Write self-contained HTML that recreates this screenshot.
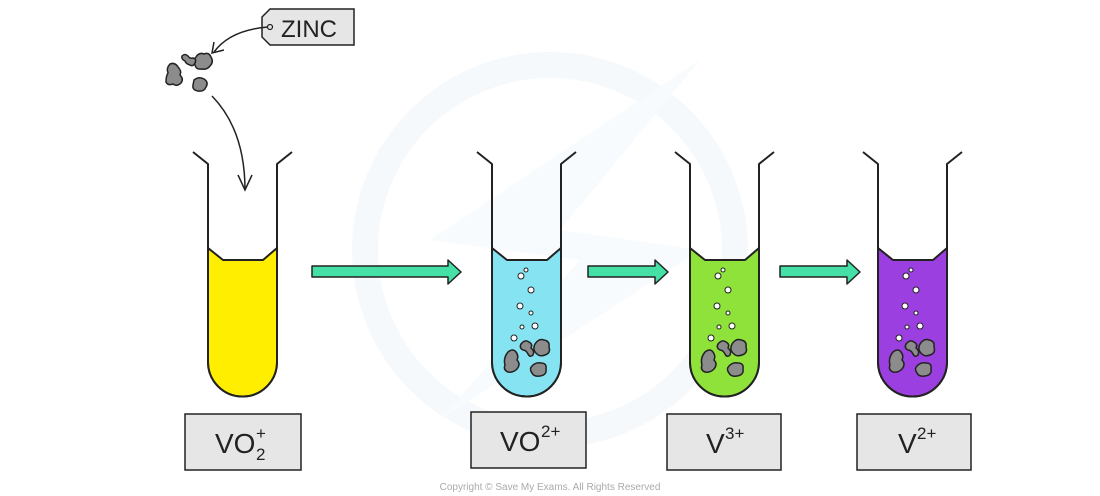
<!DOCTYPE html>
<html><head><meta charset="utf-8"><style>
body{margin:0;background:#fff;}
svg{display:block;font-family:"Liberation Sans",sans-serif;}
</style></head><body>
<svg width="1100" height="496" viewBox="0 0 1100 496" xmlns="http://www.w3.org/2000/svg">
<!-- faint watermark -->
<circle cx="550" cy="250" r="185" fill="none" stroke="#f6f9fc" stroke-width="26"/>
<path d="M430,240 L700,60 L560,230 L700,250 L440,420 L580,260 Z" fill="#f8fbfd"/>
<!-- ZINC tag -->
<path d="M262,17 l8,-8 h84 v36 h-84 l-8,-8 z" fill="#e6e6e6" stroke="#222" stroke-width="1.5"/>
<circle cx="270" cy="27" r="2.5" fill="none" stroke="#222" stroke-width="1.2"/>
<text x="281" y="37" font-size="24" fill="#222">ZINC</text>
<path d="M268,27 Q230,30 214,52" fill="none" stroke="#222" stroke-width="1.5"/>
<path d="M214,42 L212,53 L224,50" fill="none" stroke="#222" stroke-width="1.5"/>
<!-- zinc rocks -->
<g fill="#8c8c8c" stroke="#222" stroke-width="1.5" stroke-linejoin="round">
<path d="M196,57 q3,-5 8,-3 q5,-2 7,3 q3,5 -1,9 q-3,4 -8,3 q-6,1 -7,-4 q-2,-5 1,-8 z"/>
<path d="M182,56 q3,-3 6,0 q2,3 5,2 q4,1 2,5 q-2,4 -5,2 q-4,-1 -5,-4 q-4,-2 -3,-5 z"/>
<path d="M170,64 q5,-2 8,3 q4,4 2,8 q4,4 1,8 q-4,4 -8,1 q-5,2 -7,-2 q0,-6 2,-9 q-2,-5 2,-9 z"/>
<path d="M194,80 q5,-4 10,-1 q5,3 2,8 q-2,5 -8,4 q-6,-1 -5,-6 z"/>
</g>
<path d="M212,96 Q245,130 245,190" fill="none" stroke="#222" stroke-width="1.5"/>
<path d="M238,175 L245,190 L252,175" fill="none" stroke="#222" stroke-width="1.5"/>

<!-- tubes -->
<g stroke="#222" stroke-width="2" stroke-linejoin="round">
<path d="M208,248 l15,12 h40 l14,-12 V362 A34.5,34.5 0 0 1 208,362 Z" fill="#ffee00"/>
<path d="M193,152 L208,164 V362 A34.5,34.5 0 0 0 277,362 V164 L292,152" fill="none"/>
<path d="M492,248 l15,12 h40 l14,-12 V362 A34.5,34.5 0 0 1 492,362 Z" fill="#86e4f2"/>
<path d="M477,152 L492,164 V362 A34.5,34.5 0 0 0 561,362 V164 L576,152" fill="none"/>
<path d="M690,248 l15,12 h40 l14,-12 V362 A34.5,34.5 0 0 1 690,362 Z" fill="#8ee23a"/>
<path d="M675,152 L690,164 V362 A34.5,34.5 0 0 0 759,362 V164 L774,152" fill="none"/>
<path d="M878,248 l15,12 h40 l14,-12 V362 A34.5,34.5 0 0 1 878,362 Z" fill="#9b3fe0"/>
<path d="M863,152 L878,164 V362 A34.5,34.5 0 0 0 947,362 V164 L962,152" fill="none"/>
</g>
<g id="contents">
<g fill="#fff" stroke="#222" stroke-width="1">
<circle cx="526" cy="270" r="2"/><circle cx="521" cy="276" r="3"/><circle cx="531" cy="290" r="3"/>
<circle cx="520" cy="306" r="3"/><circle cx="531" cy="313" r="2"/><circle cx="522" cy="327" r="2"/>
<circle cx="535" cy="326" r="3"/><circle cx="514" cy="338" r="3"/>
</g>
<g fill="#8c8c8c" stroke="#222" stroke-width="1.5" stroke-linejoin="round">
<path d="M521,344 q4,-5 8,-2 q4,2 2,6 q4,3 2,7 q-3,3 -5,-1 q-2,-4 -5,-4 q-4,-2 -2,-6 z"/>
<path d="M535,344 q4,-6 9,-4 q6,1 5,7 q2,6 -4,8 q-5,2 -8,-1 q-5,-4 -2,-10 z"/>
<path d="M508,352 q5,-4 8,0 q3,4 1,8 q4,4 0,9 q-4,4 -9,3 q-5,-2 -3,-7 q-2,-7 3,-13 z"/>
<path d="M532,366 q4,-4 9,-3 q6,0 5,6 q1,6 -6,7 q-6,1 -8,-3 q-3,-4 0,-7 z"/>
</g>
</g>
<use href="#contents" x="197"/>
<use href="#contents" x="385"/>

<!-- arrows -->
<g fill="#45e0a6" stroke="#222" stroke-width="1.5" stroke-linejoin="round">
<path d="M312,266 H448 V260 L461,272 L448,284 V277 H312 Z"/>
<path d="M588,266 H655 V260 L668,272 L655,284 V277 H588 Z"/>
<path d="M780,266 H847 V260 L860,272 L847,284 V277 H780 Z"/>
</g>

<!-- labels -->
<g fill="#e6e6e6" stroke="#222" stroke-width="1.5">
<rect x="185" y="414" width="116" height="56"/>
<rect x="471" y="412" width="115" height="56"/>
<rect x="667" y="414" width="114" height="56"/>
<rect x="857" y="414" width="114" height="56"/>
</g>
<g fill="#222">
<text x="215" y="453" font-size="28">VO</text>
<text x="256" y="460" font-size="17">2</text>
<text x="256" y="439" font-size="17">+</text>
<text x="500" y="451" font-size="28">VO</text>
<text x="541" y="437" font-size="17">2+</text>
<text x="706" y="453" font-size="28">V</text>
<text x="725" y="439" font-size="17">3+</text>
<text x="898" y="453" font-size="28">V</text>
<text x="917" y="439" font-size="17">2+</text>
</g>
<text x="550" y="490" font-size="10" fill="#aaa" text-anchor="middle">Copyright © Save My Exams. All Rights Reserved</text>
</svg>
</body></html>
